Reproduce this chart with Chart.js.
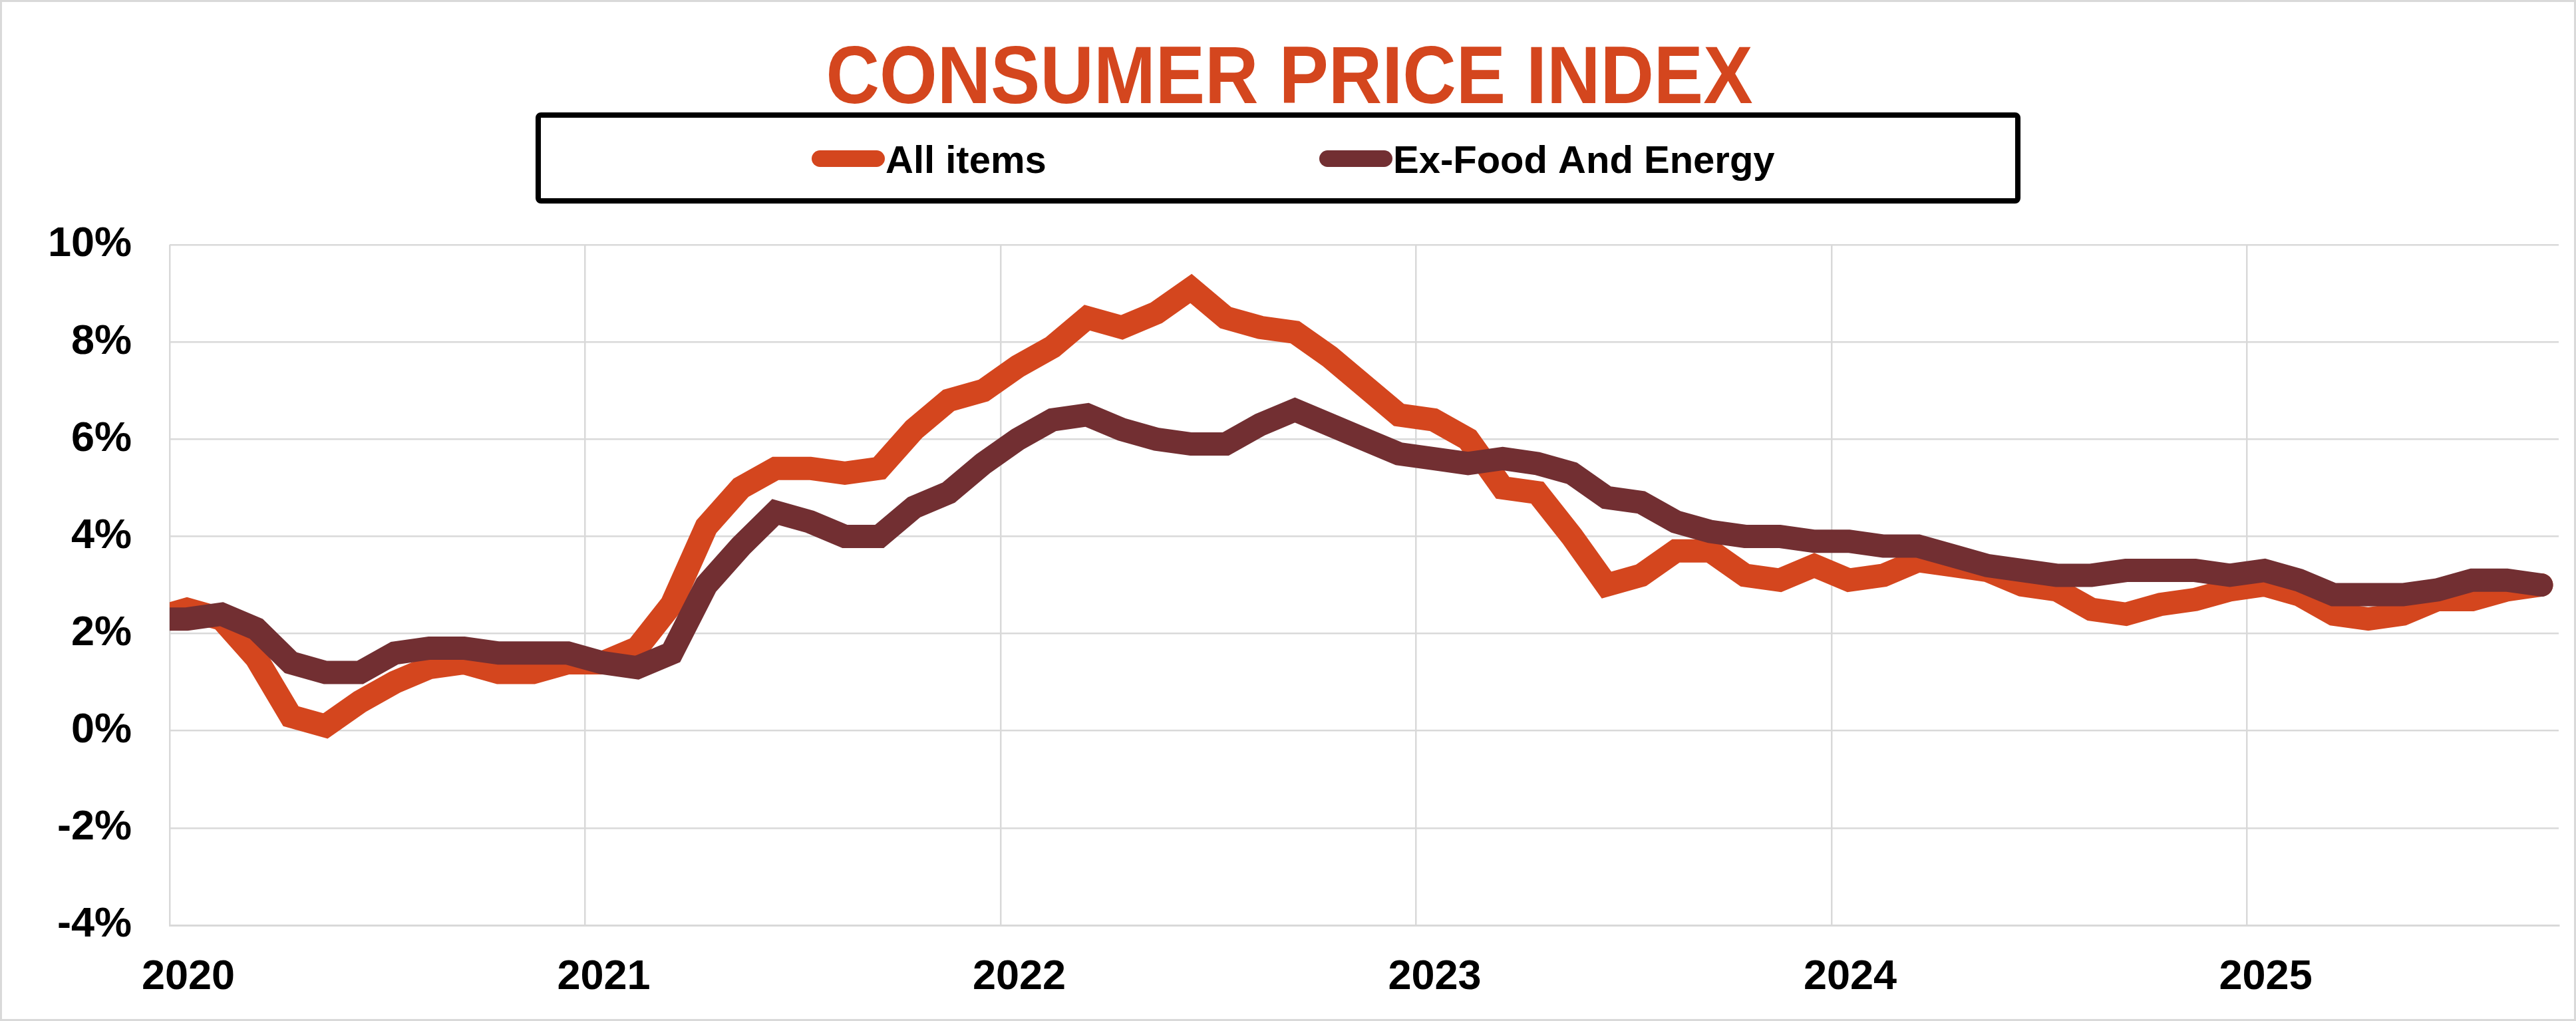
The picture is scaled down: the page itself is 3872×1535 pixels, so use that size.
<!DOCTYPE html>
<html>
<head>
<meta charset="utf-8">
<title>Consumer Price Index</title>
<script src="https://cdn.jsdelivr.net/npm/chart.js@4.4.1/dist/chart.umd.min.js"></script>
<style>
  html, body { margin: 0; padding: 0; background: #fff; }
  #wrap { position: relative; width: 3872px; height: 1535px; }
</style>
</head>
<body>
<div id="wrap"><canvas id="cpiChart"></canvas></div>
<script>
// y/y % change, monthly, Dec 2019 .. Sep 2025
const firstMonth = "2019-12";
const allItems = [
  2.3,
  2.5, 2.3, 1.5, 0.3, 0.1, 0.6, 1.0, 1.3, 1.4, 1.2, 1.2, 1.4,
  1.4, 1.7, 2.6, 4.2, 5.0, 5.4, 5.4, 5.3, 5.4, 6.2, 6.8, 7.0,
  7.5, 7.9, 8.5, 8.3, 8.6, 9.1, 8.5, 8.3, 8.2, 7.7, 7.1, 6.5,
  6.4, 6.0, 5.0, 4.9, 4.0, 3.0, 3.2, 3.7, 3.7, 3.2, 3.1, 3.4,
  3.1, 3.2, 3.5, 3.4, 3.3, 3.0, 2.9, 2.5, 2.4, 2.6, 2.7, 2.9,
  3.0, 2.8, 2.4, 2.3, 2.4, 2.7, 2.7, 2.9, 3.0
];
const exFoodEnergy = [
  2.3,
  2.3, 2.4, 2.1, 1.4, 1.2, 1.2, 1.6, 1.7, 1.7, 1.6, 1.6, 1.6,
  1.4, 1.3, 1.6, 3.0, 3.8, 4.5, 4.3, 4.0, 4.0, 4.6, 4.9, 5.5,
  6.0, 6.4, 6.5, 6.2, 6.0, 5.9, 5.9, 6.3, 6.6, 6.3, 6.0, 5.7,
  5.6, 5.5, 5.6, 5.5, 5.3, 4.8, 4.7, 4.3, 4.1, 4.0, 4.0, 3.9,
  3.9, 3.8, 3.8, 3.6, 3.4, 3.3, 3.2, 3.2, 3.3, 3.3, 3.3, 3.2,
  3.3, 3.1, 2.8, 2.8, 2.8, 2.9, 3.1, 3.1, 3.0
];
const seriesNames = ["All items", "Ex-Food And Energy"];
const yearLabels = ["2020", "2021", "2022", "2023", "2024", "2025"];
const yTickValues = [-4, -2, 0, 2, 4, 6, 8, 10];

const TITLE = "CONSUMER PRICE INDEX";
const COLORS = ["#D4461E", "#722F32"];
const GRID = "#D9D9D9";
const TICK_FONT = { family: "'Liberation Sans', Arial, sans-serif", size: 63, weight: "bold" };

// month index -> x; points sit mid-month, Jan 2020 starts at 0
const toPoints = arr => arr.map((v, i) => ({ x: i - 0.5, y: v }));

const headerPlugin = {
  id: "header",
  afterDraw(chart) {
    const ctx = chart.ctx;

    // outer frame
    ctx.save();
    ctx.strokeStyle = GRID;
    ctx.lineWidth = 3;
    ctx.strokeRect(1.5, 1.5, chart.width - 3, chart.height - 3);
    ctx.restore();

    // title, squeezed to a condensed look
    ctx.save();
    ctx.font = "bold 123px 'Liberation Sans', Arial, sans-serif";
    ctx.fillStyle = COLORS[0];
    ctx.textBaseline = "alphabetic";
    const tw = ctx.measureText(TITLE).width;
    ctx.translate(1938, 155);
    ctx.scale(1393 / tw, 1);
    ctx.fillText(TITLE, -tw / 2, 0);
    ctx.restore();

    // legend box
    ctx.save();
    ctx.strokeStyle = "#000";
    ctx.lineWidth = 8;
    ctx.beginPath();
    ctx.roundRect(809, 173, 2224, 129, 4);
    ctx.stroke();

    chart.data.datasets.forEach((ds, i) => {
      const x0 = 1220 + i * 763;
      ctx.strokeStyle = ds.borderColor;
      ctx.lineWidth = 25;
      ctx.lineCap = "round";
      ctx.beginPath();
      ctx.moveTo(x0 + 12.5, 238.5);
      ctx.lineTo(x0 + 110 - 12.5, 238.5);
      ctx.stroke();
      ctx.fillStyle = "#000";
      ctx.font = "bold 58px 'Liberation Sans', Arial, sans-serif";
      ctx.textBaseline = "alphabetic";
      ctx.fillText(ds.label, x0 + 111, 260);
    });
    ctx.restore();
  }
};

const chart = new Chart(document.getElementById("cpiChart").getContext("2d"), {
  type: "line",
  data: {
    datasets: [
      { label: seriesNames[0], data: toPoints(allItems), borderColor: COLORS[0], order: 1 },
      { label: seriesNames[1], data: toPoints(exFoodEnergy), borderColor: COLORS[1], order: 0 }
    ]
  },
  options: {
    responsive: true,
    maintainAspectRatio: false,
    devicePixelRatio: 1,
    animation: false,
    layout: { padding: { left: 0, right: 26, top: 368, bottom: 0 } },
    elements: {
      point: { radius: 0 },
      line: { borderWidth: 35, tension: 0, borderCapStyle: "round", borderJoinStyle: "miter", fill: false }
    },
    datasets: { line: { clip: 0 } },
    plugins: { legend: { display: false }, title: { display: false }, tooltip: { enabled: false } },
    scales: {
      x: {
        type: "linear",
        min: 0,
        max: 69,
        afterFit: s => { s.height = 144; },
        afterBuildTicks: s => { s.ticks = yearLabels.map((_, i) => ({ value: i * 12 })); },
        grid: { color: GRID, lineWidth: 2.5, drawTicks: false },
        border: { display: true, color: GRID, width: 3 },
        ticks: {
          callback: v => yearLabels[v / 12],
          color: "#000",
          font: TICK_FONT,
          padding: 41,
          labelOffset: 28,
          maxRotation: 0,
          autoSkip: false
        }
      },
      y: {
        min: -4,
        max: 10,
        afterFit: s => { s.width = 255; },
        afterBuildTicks: s => { s.ticks = yTickValues.map(v => ({ value: v })); },
        grid: { color: GRID, lineWidth: 2.5, drawTicks: false },
        border: { display: false },
        ticks: {
          callback: v => v + "%",
          color: "#000",
          font: TICK_FONT,
          padding: 57
        }
      }
    }
  },
  plugins: [headerPlugin]
});
</script>
</body>
</html>
